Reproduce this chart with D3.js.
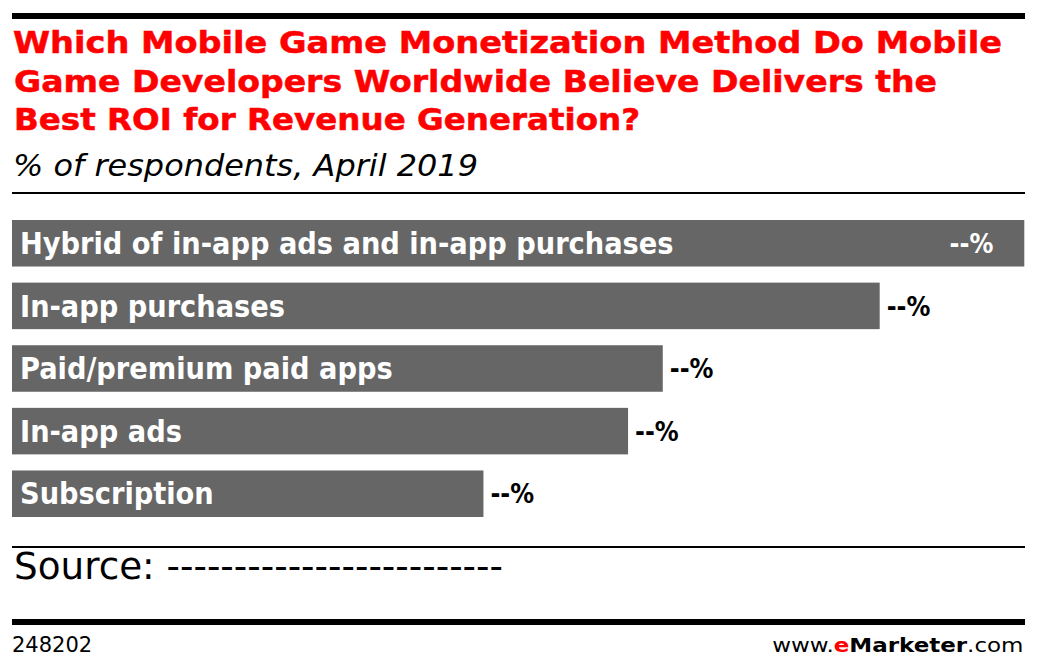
<!DOCTYPE html>
<html>
<head>
<meta charset="utf-8">
<script src="https://cdn.jsdelivr.net/npm/d3@7"></script>
<style>
  html, body { margin: 0; padding: 0; background: #fff; }
  svg { display: block; }
</style>
</head>
<body>
<svg id="chart" width="1041" height="671"></svg>
<script>
const titleLines = [
  "Which Mobile Game Monetization Method Do Mobile",
  "Game Developers Worldwide Believe Delivers the",
  "Best ROI for Revenue Generation?"
];
const subtitle = "% of respondents, April 2019";
const categories = [
  "Hybrid of in-app ads and in-app purchases",
  "In-app purchases",
  "Paid/premium paid apps",
  "In-app ads",
  "Subscription"
];
const values = [35.0, 30.0, 22.5, 21.3, 16.3];
const valueLabels = ["--%", "--%", "--%", "--%", "--%"];
const sourceText = "Source: -------------------------";
const chartId = "248202";

const svg = d3.select("#chart");
const left = 12, right = 1025;

// top rule
svg.append("rect").attr("x", left).attr("y", 13).attr("width", right - left).attr("height", 6).attr("fill", "#000");

// title (one text per line, stretched to the reference line widths)
const titleWidths = [989, 923, 626];
const titleX = [13, 14, 14];
titleLines.forEach((t, i) => {
  svg.append("text")
    .attr("x", titleX[i]).attr("y", 53 + i * 38.5)
    .attr("font-family", "DejaVu Sans")
    .attr("font-weight", "bold")
    .attr("font-size", 29.5)
    .attr("fill", "#ff0000")
    .attr("stroke", "#ff0000")
    .attr("stroke-width", 0.5)
    .attr("textLength", titleWidths[i])
    .attr("lengthAdjust", "spacingAndGlyphs")
    .text(t);
});

svg.append("text")
  .attr("x", 13).attr("y", 176)
  .attr("font-family", "DejaVu Sans")
  .attr("font-style", "italic")
  .attr("font-size", 30)
  .attr("fill", "#000")
  .attr("textLength", 465)
  .attr("lengthAdjust", "spacingAndGlyphs")
  .text(subtitle);

svg.append("rect").attr("x", left).attr("y", 192).attr("width", right - left).attr("height", 2).attr("fill", "#000");

// bars
const x = d3.scaleLinear().domain([0, 35]).range([left, 1024.3]);
const y = d3.scaleBand().domain(categories).range([220, 517]).paddingInner(0.257).paddingOuter(0);

const data = categories.map((c, i) => ({ c, v: values[i], lab: valueLabels[i] }));

const g = svg.append("g");
g.selectAll("rect.bar").data(data).join("rect")
  .attr("class", "bar")
  .attr("x", x(0))
  .attr("y", d => y(d.c))
  .attr("width", d => x(d.v) - x(0))
  .attr("height", y.bandwidth())
  .attr("fill", "#666666");

g.selectAll("text.cat").data(data).join("text")
  .attr("class", "cat")
  .attr("x", x(0) + 8)
  .attr("y", d => y(d.c) + 34)
  .attr("font-family", "DejaVu Sans Condensed, DejaVu Sans")
  .attr("font-stretch", "condensed")
  .attr("font-weight", "bold")
  .attr("font-size", 30.3)
  .attr("fill", "#fff")
  .text(d => d.c);

const maxV = d3.max(values);
g.selectAll("text.val").data(data).join("text")
  .attr("class", "val")
  .attr("x", d => d.v === maxV ? x(d.v) - 31 : x(d.v) + 7)
  .attr("y", d => y(d.c) + 33)
  .attr("text-anchor", d => d.v === maxV ? "end" : "start")
  .attr("font-family", "DejaVu Sans Condensed, DejaVu Sans")
  .attr("font-stretch", "condensed")
  .attr("font-weight", "bold")
  .attr("font-size", 26.5)
  .attr("fill", d => d.v === maxV ? "#fff" : "#000")
  .text(d => d.lab);

// source
svg.append("rect").attr("x", left).attr("y", 546).attr("width", right - left).attr("height", 2).attr("fill", "#000");
svg.append("text")
  .attr("x", 14).attr("y", 579)
  .attr("font-family", "DejaVu Sans")
  .attr("font-size", 36.5)
  .attr("fill", "#000")
  .attr("textLength", 489)
  .attr("lengthAdjust", "spacingAndGlyphs")
  .text(sourceText);

// footer
svg.append("rect").attr("x", left).attr("y", 619).attr("width", right - left).attr("height", 6).attr("fill", "#000");
svg.append("text")
  .attr("x", 12).attr("y", 651.5)
  .attr("font-family", "DejaVu Sans")
  .attr("font-size", 21)
  .attr("fill", "#000")
  .text(chartId);

const footG = svg.append("g");
const foot = footG.append("text")
  .attr("x", 0).attr("y", 0)
  .attr("text-anchor", "end")
  .attr("font-family", "DejaVu Sans")
  .attr("font-size", 20)
  .attr("fill", "#000");
foot.append("tspan").text("www.");
foot.append("tspan").attr("font-weight", "bold").attr("fill", "#ff0000").text("e");
foot.append("tspan").attr("font-weight", "bold").text("Marketer");
foot.append("tspan").text(".com");
const fw = foot.node().getBBox().width;
footG.attr("transform", `translate(1023.5,651.5) scale(${251.5 / fw},1)`);
</script>
</body>
</html>
